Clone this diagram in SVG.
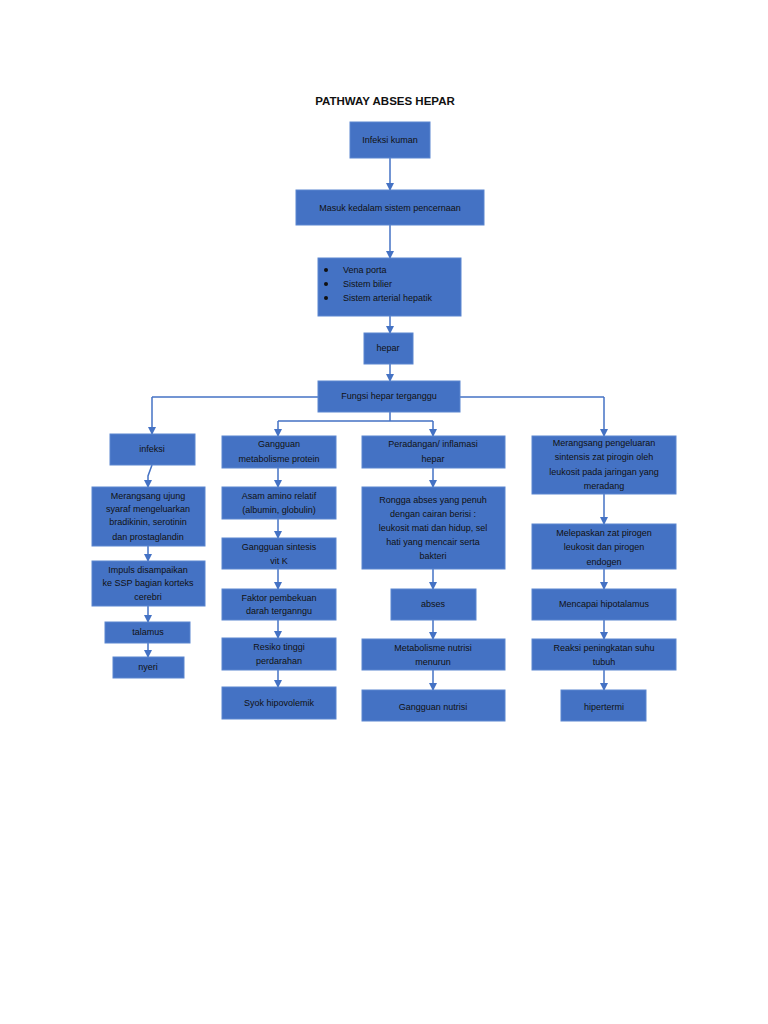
<svg xmlns="http://www.w3.org/2000/svg" width="768" height="1024" viewBox="0 0 768 1024">
<style>
.b{fill:#4472C4;stroke:#5B86D0;stroke-width:1}
.t{font-family:"Liberation Sans",Arial,sans-serif;font-size:9px;fill:#111;text-anchor:middle}
.c{stroke:#4472C4;stroke-width:1.5;fill:none;marker-end:url(#a)}
.l{stroke:#4472C4;stroke-width:1.5;fill:none}
</style>
<defs><marker id="a" markerWidth="8" markerHeight="8" refX="7" refY="4" orient="auto" markerUnits="userSpaceOnUse"><path d="M0,0 L8,4 L0,8 z" fill="#4472C4"/></marker></defs>
<rect width="768" height="1024" fill="#fff"/>
<text x="385" y="105" style="font-family:'Liberation Sans',Arial,sans-serif;font-size:11.5px;font-weight:bold;fill:#111;text-anchor:middle">PATHWAY ABSES HEPAR</text>
<g id="connectors">
<path class="c" d="M390,158 V190"/>
<path class="c" d="M390,225 V258"/>
<path class="c" d="M390,316 V333"/>
<path class="c" d="M390,364 V381"/>
<path class="l" d="M318,397 H152"/><path class="c" d="M152,397 V434"/>
<path class="l" d="M460,397 H604"/><path class="c" d="M604,397 V436"/>
<path class="l" d="M390,412 V421 M278,421 H433"/>
<path class="c" d="M278,421 V436"/><path class="c" d="M433,421 V436"/>
<path class="c" d="M152,465 L148,476 V487"/>
<path class="c" d="M148,546 V561"/>
<path class="c" d="M148,606 V622"/>
<path class="c" d="M148,643 V657"/>
<path class="c" d="M278,468 V487"/>
<path class="c" d="M278,519 V538"/>
<path class="c" d="M278,569 V589"/>
<path class="c" d="M278,620 V638"/>
<path class="c" d="M278,670 V687"/>
<path class="c" d="M433,468 V487"/>
<path class="c" d="M433,569 V589"/>
<path class="c" d="M433,620 V639"/>
<path class="c" d="M433,670 V690"/>
<path class="c" d="M604,494 V524"/>
<path class="c" d="M604,569 V589"/>
<path class="c" d="M604,620 V639"/>
<path class="c" d="M604,670 V690"/>
</g>
<g id="n1"><rect class="b" x="350" y="122" width="80" height="36"/><text class="t" x="390" y="143">Infeksi kuman</text></g>
<g id="n2"><rect class="b" x="296" y="190" width="188" height="35"/><text class="t" x="390" y="211">Masuk kedalam sistem pencernaan</text></g>
<g id="n3"><rect class="b" x="318" y="258" width="143" height="58"/>
<g style="font-family:'Liberation Sans',Arial,sans-serif;font-size:9px;fill:#111">
<circle cx="326" cy="270" r="2" fill="#111"/><text x="343" y="273">Vena porta</text>
<circle cx="326" cy="284" r="2" fill="#111"/><text x="343" y="287">Sistem bilier</text>
<circle cx="326" cy="298" r="2" fill="#111"/><text x="343" y="301">Sistem arterial hepatik</text></g></g>
<g id="n4"><rect class="b" x="364" y="333" width="49" height="31"/><text class="t" x="388" y="351">hepar</text></g>
<g id="n5"><rect class="b" x="318" y="381" width="142" height="31"/><text class="t" x="389" y="399">Fungsi hepar terganggu</text></g>
<g id="n6"><rect class="b" x="110" y="434" width="85" height="31"/><text class="t" x="152" y="452">infeksi</text></g>
<g id="n7"><rect class="b" x="92" y="487" width="113" height="59"/><text class="t" x="148" y="499">Merangsang ujung</text><text class="t" x="148" y="512">syaraf mengeluarkan</text><text class="t" x="148" y="525">bradikinin, serotinin</text><text class="t" x="148" y="540">dan prostaglandin</text></g>
<g id="n8"><rect class="b" x="92" y="561" width="113" height="45"/><text class="t" x="148" y="573">Impuls disampaikan</text><text class="t" x="148" y="586">ke SSP bagian korteks</text><text class="t" x="148" y="600">cerebri</text></g>
<g id="n9"><rect class="b" x="105" y="622" width="85" height="21"/><text class="t" x="148" y="635">talamus</text></g>
<g id="n10"><rect class="b" x="113" y="657" width="71" height="21"/><text class="t" x="148" y="670">nyeri</text></g>
<g id="n11"><rect class="b" x="222" y="436" width="114" height="32"/><text class="t" x="279" y="447">Gangguan</text><text class="t" x="279" y="462">metabolisme protein</text></g>
<g id="n12"><rect class="b" x="222" y="487" width="114" height="32"/><text class="t" x="279" y="499">Asam amino relatif</text><text class="t" x="279" y="513">(albumin, globulin)</text></g>
<g id="n13"><rect class="b" x="222" y="538" width="114" height="31"/><text class="t" x="279" y="550">Gangguan sintesis</text><text class="t" x="279" y="564">vit K</text></g>
<g id="n14"><rect class="b" x="222" y="589" width="114" height="31"/><text class="t" x="279" y="601">Faktor pembekuan</text><text class="t" x="279" y="614">darah terganngu</text></g>
<g id="n15"><rect class="b" x="222" y="638" width="114" height="32"/><text class="t" x="279" y="650">Resiko tinggi</text><text class="t" x="279" y="664">perdarahan</text></g>
<g id="n16"><rect class="b" x="222" y="687" width="114" height="32"/><text class="t" x="279" y="706">Syok hipovolemik</text></g>
<g id="n17"><rect class="b" x="362" y="436" width="143" height="32"/><text class="t" x="433" y="447">Peradangan/ inflamasi</text><text class="t" x="433" y="462">hepar</text></g>
<g id="n18"><rect class="b" x="362" y="487" width="143" height="82"/><text class="t" x="433" y="503">Rongga abses yang penuh</text><text class="t" x="433" y="517">dengan cairan berisi :</text><text class="t" x="433" y="531">leukosit mati dan hidup, sel</text><text class="t" x="433" y="545">hati yang mencair serta</text><text class="t" x="433" y="559">bakteri</text></g>
<g id="n19"><rect class="b" x="391" y="589" width="85" height="31"/><text class="t" x="433" y="607">abses</text></g>
<g id="n20"><rect class="b" x="362" y="639" width="143" height="31"/><text class="t" x="433" y="651">Metabolisme nutrisi</text><text class="t" x="433" y="665">menurun</text></g>
<g id="n21"><rect class="b" x="362" y="690" width="143" height="31"/><text class="t" x="433" y="710">Gangguan nutrisi</text></g>
<g id="n22"><rect class="b" x="532" y="436" width="144" height="58"/><text class="t" x="604" y="446">Merangsang pengeluaran</text><text class="t" x="604" y="460">sintensis zat pirogin oleh</text><text class="t" x="604" y="475">leukosit pada jaringan yang</text><text class="t" x="604" y="489">meradang</text></g>
<g id="n23"><rect class="b" x="532" y="524" width="144" height="45"/><text class="t" x="604" y="536">Melepaskan zat pirogen</text><text class="t" x="604" y="550">leukosit dan pirogen</text><text class="t" x="604" y="565">endogen</text></g>
<g id="n24"><rect class="b" x="532" y="589" width="144" height="31"/><text class="t" x="604" y="607">Mencapai hipotalamus</text></g>
<g id="n25"><rect class="b" x="532" y="639" width="144" height="31"/><text class="t" x="604" y="651">Reaksi peningkatan suhu</text><text class="t" x="604" y="665">tubuh</text></g>
<g id="n26"><rect class="b" x="561" y="690" width="85" height="31"/><text class="t" x="604" y="710">hipertermi</text></g>
</svg>
